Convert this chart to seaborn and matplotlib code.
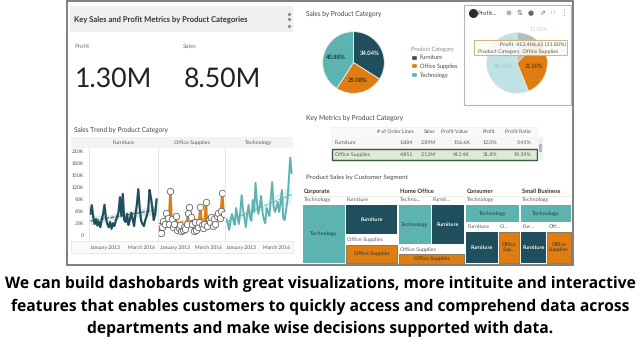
import numpy as np
import pandas as pd
import seaborn as sns
import matplotlib
matplotlib.use('Agg')
import matplotlib.pyplot as plt
from matplotlib.patches import Rectangle, Patch

# --- data
categories = ['Furniture', 'Office Supplies', 'Technology']
month = list(range(48))
furniture_sales = [55, 77, 48, 30, 42, 26, 36, 22, 40, 55, 78, 45, 30, 22, 35, 18, 32, 25, 38, 48, 60, 97, 50, 105,
                   40, 35, 55, 28, 40, 58, 42, 25, 55, 78, 117, 70, 38, 30, 25, 40, 50, 65, 115, 95, 70, 40, 55, 92]
office_sales = [25, 8, 22, 38, 30, 58, 45, 30, 112, 42, 22, 30, 50, 15, 20, 28, 12, 15, 22, 18, 30, 58, 72, 48,
                30, 12, 35, 15, 22, 35, 72, 28, 20, 30, 85, 25, 40, 35, 48, 25, 42, 30, 50, 58, 45, 62, 107, 55]
tech_sales = [42, 32, 15, 40, 55, 40, 28, 70, 50, 30, 60, 102, 65, 45, 22, 55, 78, 45, 38, 90, 60, 133, 85, 55,
              75, 100, 60, 42, 32, 70, 60, 50, 95, 135, 75, 60, 70, 85, 60, 80, 115, 45, 40, 65, 90, 140, 196, 157]
y_ticks = [0, 30, 60, 90, 120, 150, 180, 210]
y_labels = ['0', '30K', '60K', '90K', '120K', '150K', '180K', '210K']

sales_share = [34.04, 25.08, 40.88]
profit_share = [12.00, 31.80, 56.15]

table_cols = ['# of Order Lines', 'Sales', 'Profit Value', 'Profit', 'Profit Ratio']
table_rows = [['Furniture', '1,884', '2.89M', '156.6K', '12.0%', '5.41%'],
              ['Office Supplies', '4,851', '2.13M', '413.4K', '31.8%', '19.39%']]

segments = ['Corporate', 'Home Office', 'Consumer', 'Small Business']
seg_tech = [1.36, 0.85, 0.60, 0.57]
seg_furn = [1.05, 0.88, 0.68, 0.53]
seg_office = [0.64, 0.38, 0.44, 0.52]
seg_layout = ['col', 'row2', 'row1', 'row1']
seg_office_label = ['Office Supplies', 'Office Supplies', 'Office\nSup...', 'Office\nSupplies']

caption = ['We can build dashobards with great visualizations, more intituite and interactive',
           'features that enables customers to quickly access and comprehend data across',
           'departments and make wise decisions supported with data.']

DARK = '#1f4f5c'
ORANGE = '#df7c12'
TEAL = '#5cb3b0'
W, H = 640, 360

sns.set_theme(style='white')
plt.rcParams['font.family'] = ['Lato', 'DejaVu Sans']
plt.rcParams['text.hinting'] = 'no_hinting'

fig = plt.figure(figsize=(6.4, 3.6), dpi=100)


def pixel_axes(x0, y0, x1, y1, **kw):
    return fig.add_axes([x0 / W, 1 - y1 / H, (x1 - x0) / W, (y1 - y0) / H], **kw)


# page sized axes in pixel coordinates for the dashboard furniture
bg = pixel_axes(0, 0, W, H)
bg.set_xlim(0, W)
bg.set_ylim(H, 0)
bg.axis('off')


def box(x0, y0, x1, y1, **kw):
    bg.add_patch(Rectangle((x0, y0), x1 - x0, y1 - y0, **kw))


def label(x, y, s, size=5, color='#555555', ha='left', **kw):
    bg.text(x, y, s, fontsize=size, color=color, ha=ha, va='center', **kw)


# outer frame
box(67, 0.5, 572.5, 265, fc='white', ec='#6a6a6a', lw=1.2)

# KPI block
box(70, 6, 293, 32, fc='#f1efee', ec='none')
label(74, 20, 'Key Sales and Profit Metrics by Product Categories', size=5.5, color='#333333', fontweight='bold')
bg.plot([289, 289, 289], [14, 19, 26], ls='none', marker='s', ms=1, color='#888888')
label(74, 46, 'Profit', size=4.4, color='#777777')
label(183, 46, 'Sales', size=4.4, color='#777777')
label(75, 79, '1.30M', size=19.2, color='#222222')
label(184, 79, '8.50M', size=19.2, color='#222222')

# sales trend panels
label(74, 130, 'Sales Trend by Product Category', size=4.7, color='#444444')
box(71, 137, 293, 148, fc='#f3f3f3', ec='none')
box(71, 241, 293, 253, fc='#fafafa', ec='#e4e4e4', lw=0.5)
trend = pd.DataFrame({'month': month * 3,
                      'sales': furniture_sales + office_sales + tech_sales,
                      'category': [c for c in categories for m in month]})
edges = [89, 158, 225, 293]
colors = [DARK, ORANGE, TEAL]
widths = [1.6, 1.7, 1.4]
for i, cat in enumerate(categories):
    ax = pixel_axes(edges[i], 148, edges[i + 1], 241)
    sub = trend[trend.category == cat]
    sns.regplot(data=sub, x='month', y='sales', scatter=False, ci=95, n_boot=200, seed=3, truncate=True, ax=ax,
                color=colors[i], line_kws={'ls': '--', 'lw': 0.7})
    if cat == 'Office Supplies':
        sns.lineplot(data=sub, x='month', y='sales', color=colors[i], lw=widths[i], ax=ax, marker='o', ms=4.6,
                     mfc='white', mec='#666666', mew=0.6, errorbar=None)
    else:
        sns.lineplot(data=sub, x='month', y='sales', color=colors[i], lw=widths[i], ax=ax, errorbar=None)
    ax.set_xlim(-1, 48)
    ax.set_ylim(-12.5, 220)
    ax.set_xlabel('')
    ax.set_ylabel('')
    ax.set_xticks([])
    ax.set_yticks([])
    ax.patch.set_alpha(0)
    for s in ['top', 'right', 'bottom']:
        ax.spines[s].set_visible(False)
    ax.spines['left'].set_color('#e2e2e2')
    ax.spines['left'].set_linewidth(0.6)
    mid = (edges[i] + edges[i + 1]) / 2
    label(mid, 143, cat, size=3.9, color='#555555', ha='center')
    label(edges[i] + 1.5, 248, 'January 2013', size=3.6, color='#555555')
    label(edges[i + 1] - 3, 248, 'March 2016', size=3.6, color='#555555', ha='right')
for t, s in zip(y_ticks, y_labels):
    label(84, 236 - t * 0.4, s, size=3.7, color='#555555', ha='right')

# sales pie
label(306, 14, 'Sales by Product Category', size=4.7, color='#444444')
pie_ax = pixel_axes(322, 31, 385, 94)
pie_ax.pie(sales_share, colors=colors, startangle=90, counterclock=False,
           autopct='%.2f%%', pctdistance=0.6, wedgeprops={'ec': '#f0f0f0', 'lw': 0.6},
           textprops={'fontsize': 4.2, 'color': '#e8f2f2', 'fontweight': 'bold'})
pie_ax.set_xlim(-1.02, 1.02)
pie_ax.set_ylim(-1.02, 1.02)
pie_ax.texts[3].set_color('#333333')
pie_ax.texts[5].set_color('#1f3a3a')
leg = bg.legend(handles=[Patch(fc=c, label=n) for c, n in zip(colors, categories)],
                title='Product Category', loc='upper left', bbox_to_anchor=(411, 46), bbox_transform=bg.transData,
                frameon=False, fontsize=4.1, title_fontsize=4, handlelength=1, handleheight=1, labelspacing=0.55,
                handletextpad=0.5, borderpad=0, borderaxespad=0, alignment='left')
leg.get_title().set_color('#888888')
for tx in leg.get_texts():
    tx.set_color('#444444')

# selected profit pie
box(464, 5, 571, 105, fc='white', ec='#b5b5b5', lw=0.8)
profit_ax = pixel_axes(486, 32, 548, 94)
profit_ax.pie(profit_share, colors=['#aebfc3', ORANGE, '#bfe2e6'], startangle=90, counterclock=False,
              wedgeprops={'ec': '#f6e8d8', 'lw': 0.5})
profit_ax.set_xlim(-1.02, 1.02)
profit_ax.set_ylim(-1.02, 1.02)
bg.plot([473], [13], marker='o', ms=5.5, color='#2c2c2c')
label(477, 13, 'Profit...', size=4.4, color='#444444')
for x, s in zip([508, 519, 531, 542, 553, 564], ['⊕', '⇅', '●', '⇗', '∷', '⋮']):
    label(x, 13, s, size=5, color='#666666', ha='center', family='DejaVu Sans')
label(539, 29, '12.00%', size=4, color='#c4d0d2', ha='center')

# tooltip and slice labels sit over the pie
fg = pixel_axes(0, 0, W, H)
fg.set_xlim(0, W)
fg.set_ylim(H, 0)
fg.axis('off')
fg.text(503, 66, '56.15%', fontsize=4, color='#9cc6c9', ha='center', va='center')
fg.text(534, 66, '31.80%', fontsize=4, color='#5a2c00', ha='center', va='center')
fg.add_patch(Rectangle((474, 40), 93, 15, fc='#fdfbf6', ec='#c9b27a', lw=0.8, alpha=0.9))
fg.text(566, 45, 'Profit  413,406.65 (31.80%)', fontsize=3.9, color='#555555', ha='right', va='center')
fg.text(478, 51.5, 'Product Category  Office Supplies', fontsize=3.9, color='#555555', ha='left', va='center')

# key metrics table
label(306, 118, 'Key Metrics by Product Category', size=4.8, color='#444444')
box(331, 127, 537, 137, fc='#f9f9f9', ec='#ececec', lw=0.4)
box(331, 137, 537, 149, fc='#f6f6f6', ec='none')
box(331.5, 149, 537, 160, fc='#dcebd6', ec='#3d5a3d', lw=1)
box(538, 137, 543, 160, fc='#f0f0f0', ec='none')
box(539, 144, 542, 152, fc='#b8b8b8', ec='none')
header_x = [395, 430, 454, 489, 518]
cell_x = [413, 436, 470, 497, 531]
for x, s in zip(header_x, table_cols):
    label(x, 132, s, size=3.7, color='#555555', ha='center')
for y, row in zip([143, 154.5], table_rows):
    label(335, y, row[0], size=3.8, color='#555555')
    for x, s in zip(cell_x, row[1:]):
        label(x, y, s, size=3.8, color='#555555', ha='right')

# customer segment treemap, tile sizes follow the sales values
label(306, 177, 'Product Sales by Customer Segment', size=4.6, color='#444444')
tile_top, tile_bottom = 205, 263
head = 10
scale = 262 / (sum(seg_tech) + sum(seg_furn) + sum(seg_office))


def tile(x0, y0, x1, y1, name, tag=None, text=None):
    fc = dict(zip(categories, colors))[name]
    ec = '#8a7a60' if name == 'Office Supplies' else 'none'
    txt = 'white' if name == 'Furniture' else '#1e3b3b'
    box(x0, y0, x1, y1, fc=fc, ec=ec, lw=0.7)
    label((x0 + x1) / 2, (y0 + y1) / 2, text or name, size=3.9, color=txt, ha='center', linespacing=1.1,
          fontweight='bold' if name == 'Furniture' else 'normal')
    if tag:
        label(x0 + 1, y0 - 5, tag, size=3.9, color='#555555')


x = 303
top_tags = [('Technology', 'Furniture', 'Office Supplies'),
            ('Techno...', 'Furnit...', 'Office Supplies'),
            ('Technology', 'Furniture', 'O...'),
            ('Technology', 'Fur...', 'Off...')]
for i, seg in enumerate(segments):
    t, f, o = seg_tech[i], seg_furn[i], seg_office[i]
    total = t + f + o
    w = total * scale
    tags = top_tags[i]
    label(x + 1, 191, seg, size=4.2, color='#333333', fontweight='bold')
    bg.plot([x, x + w], [196, 196], color='#e6e6e6', lw=0.5)
    if seg_layout[i] == 'col':
        xm = x + w * t / total
        ym = tile_top + (tile_bottom - tile_top - head - 1) * f / (f + o)
        tile(x, tile_top, xm, tile_bottom, 'Technology', tags[0])
        tile(xm + 1, tile_top, x + w, ym, 'Furniture', tags[1])
        tile(xm + 1, ym + head + 1, x + w, tile_bottom, 'Office Supplies', tags[2], seg_office_label[i])
    elif seg_layout[i] == 'row2':
        ym = tile_top + (tile_bottom - tile_top - head) * (t + f) / total
        xm = x + w * t / (t + f)
        tile(x, tile_top, xm, ym, 'Technology', tags[0])
        tile(xm + 1, tile_top, x + w, ym, 'Furniture', tags[1])
        tile(x, ym + head, x + w, tile_bottom + 1, 'Office Supplies', tags[2], seg_office_label[i])
    else:
        ym = tile_top + (tile_bottom - tile_top - head) * t / total
        xm = x + w * f / (f + o)
        tile(x, tile_top, x + w, ym, 'Technology', tags[0])
        tile(x, ym + head, xm, tile_bottom, 'Furniture', tags[1])
        tile(xm + 1, ym + head, x + w, tile_bottom, 'Office Supplies', None, seg_office_label[i])
        label(xm + 2, ym + head - 5, tags[2], size=3.9, color='#555555')
    x += w + 2

# caption under the dashboard
for y, line in zip([284, 306.5, 329], caption):
    bg.text(320, y, line, fontsize=11.25, color='black', ha='center', va='center',
            family='Open Sans', fontweight='bold')

fig.savefig('out.png', dpi=100)
